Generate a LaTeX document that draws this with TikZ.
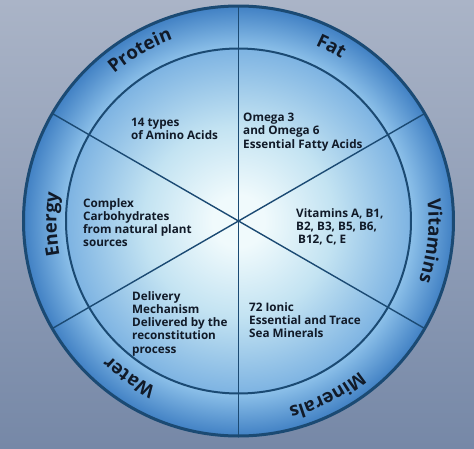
\documentclass[tikz,border=0pt]{standalone}
\usepackage{fontspec}
\setmainfont{Open Sans}
\usetikzlibrary{decorations.text}
\definecolor{bgtop}{HTML}{AAB4C7}
\definecolor{bgbot}{HTML}{7688A7}
\definecolor{edge}{HTML}{1B4A73}
\definecolor{txt}{HTML}{111A28}
\definecolor{cA}{HTML}{F0FAFC}
\definecolor{cM}{HTML}{C3E3F2}
\definecolor{cB}{HTML}{7DB3E2}
\definecolor{cC}{HTML}{8CC0E9}
\definecolor{cD}{HTML}{3F7FC3}
\pgfdeclareradialshading{disk}{\pgfpoint{0bp}{0bp}}{color(0bp)=(cA); color(3bp)=(cA); color(11bp)=(cM); color(20bp)=(cB); color(20.01bp)=(cC); color(25bp)=(cD); color(50bp)=(cD)}
\newcommand\lblfont{\bfseries\fontsize{18.5}{18.5}\selectfont}
\newcommand\ringtext[3]{%
  \path[decorate, decoration={text along path, text={|\lblfont|#3}, text align=center, text color=txt}]
    ({#1+30}:#2) arc[start angle={#1+30}, end angle={#1-30}, radius=#2];}
\tikzset{
  body/.style={anchor=north west, inner sep=0pt, align=left, text=txt,
    font=\bfseries\fontsize{11.7}{13.3}\selectfont},
  spoke/.style={draw=edge, line width=1.4pt},
}
\begin{document}
\begin{tikzpicture}[x=1pt,y=1pt]
\useasboundingbox (-238.5,-227) rectangle (235.5,221);
\shade[top color=bgtop, bottom color=bgbot] (-238.5,-227) rectangle (235.5,221);
\shade[shading=disk] (0,0) circle (216);
% spokes
\coordinate (a30) at (30:216);   \coordinate (a210) at (210:216);
\coordinate (a150) at (150:216); \coordinate (a330) at (330:216);
\coordinate (a90) at (90:216);   \coordinate (a270) at (270:216);
\draw[spoke] (a30) -- (a210);
\draw[spoke] (a150) -- (a330);
\draw[spoke] (a90) -- (a270);
% circles
\draw[edge, line width=2pt] (0,0) circle (172.5);
\draw[edge, line width=3pt] (0,0) circle (215);
% ring labels
\ringtext{120}{193}{Protein}
\ringtext{62}{192}{Fat}
\ringtext{-6}{190}{Vitamins}
\ringtext{-63}{193}{Minerals}
\ringtext{-125}{186}{Water}
\ringtext{181}{182}{Energy}
% sector texts
\node[body] (tprot) at (-107.5,103) {14 types\\of Amino Acids};
\node[body] (tfat) at (4.5,108) {Omega 3\\and Omega 6\\Essential Fatty Acids};
\node[body] (tvit) at (57.5,13) {Vitamins A, B1,\\B2, B3, B5, B6,\\\,B12, C, E};
\node[body] (tene) at (-155.5,23) {Complex\\Carbohydrates\\from natural plant\\sources};
\node[body] (twat) at (-106.5,-70) {Delivery\\Mechanism\\Delivered by the\\reconstitution\\process};
\node[body] (tmin) at (10.5,-81) {72 Ionic\\Essential and Trace\\Sea Minerals};
\end{tikzpicture}
\end{document}
